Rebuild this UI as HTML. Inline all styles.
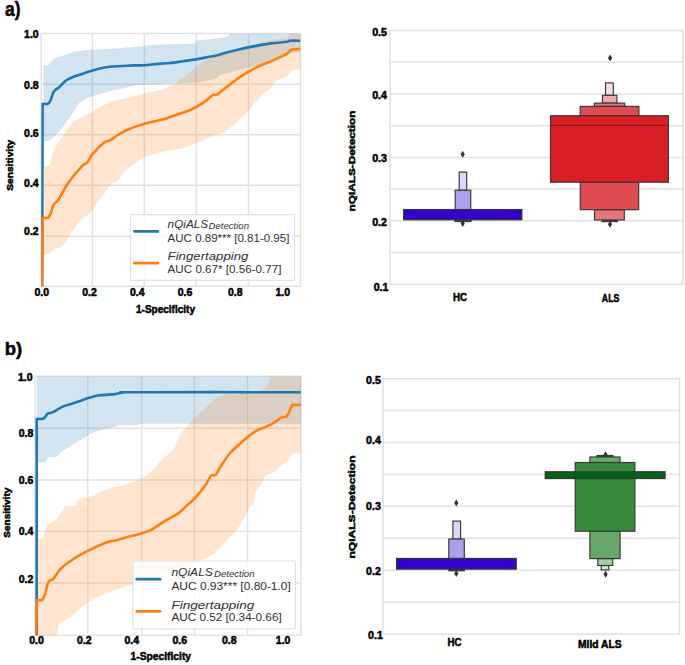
<!DOCTYPE html>
<html><head><meta charset="utf-8"><style>
html,body{margin:0;padding:0;background:#fff;width:685px;height:665px;overflow:hidden}
svg text{font-family:"Liberation Sans", sans-serif}
</style></head><body>
<svg width="685" height="665" viewBox="0 0 685 665" style="position:absolute;left:0;top:0">
<rect width="685" height="665" fill="#fff"/>
<g>
<text x="5" y="16.3" font-size="19.5" font-weight="bold" text-anchor="start" fill="#000" stroke="#000" stroke-width="0.5" textLength="15.5" lengthAdjust="spacingAndGlyphs" >a)</text>
<text x="4.8" y="354.5" font-size="18.8" font-weight="bold" text-anchor="start" fill="#000" stroke="#000" stroke-width="0.5" textLength="17.5" lengthAdjust="spacingAndGlyphs" >b)</text>
<line x1="92.40" y1="33.5" x2="92.40" y2="286.3" stroke="#e1e1e1" stroke-width="1.4"/>
<line x1="144.30" y1="33.5" x2="144.30" y2="286.3" stroke="#e1e1e1" stroke-width="1.4"/>
<line x1="196.30" y1="33.5" x2="196.30" y2="286.3" stroke="#e1e1e1" stroke-width="1.4"/>
<line x1="248.50" y1="33.5" x2="248.50" y2="286.3" stroke="#e1e1e1" stroke-width="1.4"/>
<line x1="41.2" y1="84.30" x2="300.5" y2="84.30" stroke="#e1e1e1" stroke-width="1.4"/>
<line x1="41.2" y1="134.80" x2="300.5" y2="134.80" stroke="#e1e1e1" stroke-width="1.4"/>
<line x1="41.2" y1="185.20" x2="300.5" y2="185.20" stroke="#e1e1e1" stroke-width="1.4"/>
<line x1="41.2" y1="236.30" x2="300.5" y2="236.30" stroke="#e1e1e1" stroke-width="1.4"/>
<rect x="41.2" y="33.5" width="259.3" height="252.8" fill="none" stroke="#e0e0e0" stroke-width="1.4"/>
<clipPath id="c4133"><rect x="41.2" y="33.5" width="259.3" height="252.8"/></clipPath>
<g clip-path="url(#c4133)">
<polygon points="43.3,65.3 48.4,65.3 53.7,58.4 64.2,55.3 74.7,51.6 87.4,50.0 100.0,49.5 118.0,48.6 135.0,46.6 156.9,44.8 195.0,43.5 197.2,40.5 210.0,39.3 227.6,37.1 230.0,33.5 300.5,33.5 301.0,33.5 301.0,52.1 300.3,52.1 288.5,53.7 280.0,56.3 273.0,59.8 264.3,62.9 255.0,66.3 247.5,68.0 238.8,69.8 230.0,72.4 219.5,75.0 217.8,77.7 212.5,79.4 203.8,81.2 195.0,82.6 172.7,83.8 150.8,84.7 135.0,85.2 125.0,87.9 110.0,90.9 100.0,93.7 87.4,97.9 80.0,102.1 74.7,110.0 68.0,120.0 65.0,124.5 57.5,133.5 48.5,141.0 43.3,141.0" fill="#1f77b4" fill-opacity="0.2"/>
<polygon points="43.0,165.9 49.3,165.9 53.0,153.0 56.0,146.3 65.0,133.5 72.6,121.5 78.6,118.7 92.1,112.0 105.7,103.7 110.0,101.4 125.0,98.4 144.6,93.2 161.3,90.0 171.8,85.5 176.2,82.9 180.5,78.5 187.5,75.0 191.9,70.6 195.4,66.5 205.0,60.3 217.8,55.4 230.0,51.1 238.8,48.8 245.8,45.3 255.0,44.4 271.0,40.3 287.7,37.9 290.8,33.5 300.5,33.5 301.0,33.5 301.0,69.0 300.3,69.0 295.8,69.4 291.4,71.2 287.0,76.5 281.8,78.6 276.5,80.8 273.0,85.6 268.6,90.0 263.4,93.5 258.1,99.7 252.9,105.0 247.5,112.3 242.3,116.6 237.9,121.9 233.5,125.0 228.3,128.9 223.9,132.8 214.3,135.0 208.1,137.7 200.3,141.2 195.0,143.8 182.2,148.6 162.6,151.6 144.6,156.8 132.6,165.1 125.0,171.1 117.5,180.9 111.7,183.2 101.2,198.2 98.9,200.0 94.8,206.8 90.8,212.9 82.7,218.3 75.9,225.7 69.1,235.9 65.0,243.3 59.7,247.4 54.2,248.7 48.8,254.1 43.0,254.1" fill="#ff7f0e" fill-opacity="0.2"/>
<path d="M42.10,287.00 C42.10,287.00 42.60,103.70 42.60,103.70 C42.60,103.70 46.58,104.23 47.90,103.70 C49.22,103.17 49.62,102.35 50.50,100.50 C51.38,98.65 52.32,94.43 53.20,92.60 C54.08,90.77 54.93,90.28 55.80,89.50 C56.67,88.72 57.35,88.78 58.40,87.90 C59.45,87.02 60.70,85.52 62.10,84.20 C63.50,82.88 64.70,81.32 66.80,80.00 C68.90,78.68 71.80,77.43 74.70,76.30 C77.60,75.17 81.22,74.17 84.20,73.20 C87.18,72.23 89.97,71.30 92.60,70.50 C95.23,69.70 97.10,69.02 100.00,68.40 C102.90,67.78 107.00,67.17 110.00,66.80 C113.00,66.43 113.83,66.43 118.00,66.20 C122.17,65.97 130.70,65.55 135.00,65.40 C139.30,65.25 139.42,65.60 143.80,65.30 C148.18,65.00 156.93,63.98 161.30,63.60 C165.67,63.22 166.37,63.40 170.00,63.00 C173.63,62.60 178.72,61.80 183.10,61.20 C187.48,60.60 191.92,60.13 196.30,59.40 C200.68,58.67 206.05,57.45 209.40,56.80 C212.75,56.15 212.97,56.37 216.40,55.50 C219.83,54.63 226.27,52.62 230.00,51.60 C233.73,50.58 234.63,50.32 238.80,49.40 C242.97,48.48 249.63,47.10 255.00,46.10 C260.37,45.10 265.68,44.12 271.00,43.40 C276.32,42.68 283.73,42.25 286.90,41.80 C290.07,41.35 287.77,40.88 290.00,40.70 C292.23,40.52 300.30,40.70 300.30,40.70" fill="none" stroke="#1f77b4" stroke-width="2.6" stroke-linejoin="round"/>
<path d="M41.90,287.00 C41.90,287.00 42.70,218.00 42.70,218.00 C42.70,218.00 48.10,218.00 48.10,218.00 C48.10,218.00 49.98,215.12 50.90,212.90 C51.82,210.68 52.58,206.62 53.60,204.70 C54.62,202.78 56.10,202.35 57.00,201.40 C57.90,200.45 57.17,202.03 59.00,199.00 C60.83,195.97 64.23,188.60 68.00,183.20 C71.77,177.80 78.33,170.12 81.60,166.60 C84.87,163.08 85.85,164.10 87.60,162.10 C89.35,160.10 89.33,157.85 92.10,154.60 C94.87,151.35 101.22,144.98 104.20,142.60 C107.18,140.22 107.70,141.57 110.00,140.30 C112.30,139.03 115.12,136.75 118.00,135.00 C120.88,133.25 122.87,131.67 127.30,129.80 C131.73,127.93 138.72,125.52 144.60,123.80 C150.48,122.08 158.37,120.62 162.60,119.50 C166.83,118.38 166.82,118.18 170.00,117.10 C173.18,116.02 178.38,114.17 181.70,113.00 C185.02,111.83 187.37,111.17 189.90,110.10 C192.43,109.03 194.38,108.05 196.90,106.60 C199.42,105.15 202.28,103.35 205.00,101.40 C207.72,99.45 211.25,95.98 213.20,94.90 C215.15,93.82 215.23,95.63 216.70,94.90 C218.17,94.17 219.78,92.23 222.00,90.50 C224.22,88.77 227.20,86.63 230.00,84.50 C232.80,82.37 235.88,79.72 238.80,77.70 C241.72,75.68 244.57,74.13 247.50,72.40 C250.43,70.67 253.60,68.73 256.40,67.30 C259.20,65.87 261.82,64.83 264.30,63.80 C266.78,62.77 269.27,61.92 271.30,61.10 C273.33,60.28 274.75,59.70 276.50,58.90 C278.25,58.10 280.07,57.17 281.80,56.30 C283.53,55.43 285.27,54.80 286.90,53.70 C288.53,52.60 289.37,50.48 291.60,49.70 C293.83,48.92 300.30,49.00 300.30,49.00" fill="none" stroke="#ff7f0e" stroke-width="2.6" stroke-linejoin="round"/>
</g>
<text x="41.7" y="296" font-size="10" font-weight="bold" text-anchor="middle" fill="#000" stroke="#000" stroke-width="0.5" textLength="14.6" lengthAdjust="spacingAndGlyphs" >0.0</text>
<text x="89.5" y="296" font-size="10" font-weight="bold" text-anchor="middle" fill="#000" stroke="#000" stroke-width="0.5" textLength="14.6" lengthAdjust="spacingAndGlyphs" >0.2</text>
<text x="137.2" y="296" font-size="10" font-weight="bold" text-anchor="middle" fill="#000" stroke="#000" stroke-width="0.5" textLength="14.6" lengthAdjust="spacingAndGlyphs" >0.4</text>
<text x="185" y="296" font-size="10" font-weight="bold" text-anchor="middle" fill="#000" stroke="#000" stroke-width="0.5" textLength="14.6" lengthAdjust="spacingAndGlyphs" >0.6</text>
<text x="235.2" y="296" font-size="10" font-weight="bold" text-anchor="middle" fill="#000" stroke="#000" stroke-width="0.5" textLength="14.6" lengthAdjust="spacingAndGlyphs" >0.8</text>
<text x="282.8" y="296" font-size="10" font-weight="bold" text-anchor="middle" fill="#000" stroke="#000" stroke-width="0.5" textLength="14.6" lengthAdjust="spacingAndGlyphs" >1.0</text>
<text x="38.7" y="38" font-size="10" font-weight="bold" text-anchor="end" fill="#000" stroke="#000" stroke-width="0.5" textLength="14.6" lengthAdjust="spacingAndGlyphs" >1.0</text>
<text x="38.7" y="88.6" font-size="10" font-weight="bold" text-anchor="end" fill="#000" stroke="#000" stroke-width="0.5" textLength="14.6" lengthAdjust="spacingAndGlyphs" >0.8</text>
<text x="38.7" y="137.3" font-size="10" font-weight="bold" text-anchor="end" fill="#000" stroke="#000" stroke-width="0.5" textLength="14.6" lengthAdjust="spacingAndGlyphs" >0.6</text>
<text x="38.7" y="186.6" font-size="10" font-weight="bold" text-anchor="end" fill="#000" stroke="#000" stroke-width="0.5" textLength="14.6" lengthAdjust="spacingAndGlyphs" >0.4</text>
<text x="38.7" y="235" font-size="10" font-weight="bold" text-anchor="end" fill="#000" stroke="#000" stroke-width="0.5" textLength="14.6" lengthAdjust="spacingAndGlyphs" >0.2</text>
<rect x="130.5" y="214.6" width="164" height="65.7" rx="1" fill="#fff" fill-opacity="0.8" stroke="#e0e0e0" stroke-width="1.2"/>
<line x1="134.5" y1="231.4" x2="157.8" y2="231.4" stroke="#1f77b4" stroke-width="2.8" stroke-linecap="round"/>
<line x1="134.5" y1="263.2" x2="157.8" y2="263.2" stroke="#ff7f0e" stroke-width="2.8" stroke-linecap="round"/>
<text x="167.6" y="227.8" font-size="10.5" fill="#303030" textLength="40.5" lengthAdjust="spacingAndGlyphs" style="font-style:italic">nQiALS</text>
<text x="208.5" y="229.4" font-size="10.5" fill="#303030" textLength="40.5" lengthAdjust="spacingAndGlyphs" style="font-style:italic"><tspan font-size="8.5">Detection</tspan></text>
<text x="167.6" y="241.6" font-size="10.5" fill="#303030" textLength="121.8" lengthAdjust="spacingAndGlyphs" style="">AUC 0.89*** [0.81-0.95]</text>
<text x="167.6" y="259.6" font-size="10.5" fill="#303030" textLength="80.8" lengthAdjust="spacingAndGlyphs" style="font-style:italic">Fingertapping</text>
<text x="167.6" y="272.9" font-size="10.5" fill="#303030" textLength="113.8" lengthAdjust="spacingAndGlyphs" style="">AUC 0.67* [0.56-0.77]</text>
<text x="165.5" y="312.8" font-size="10.5" font-weight="bold" text-anchor="middle" fill="#000" stroke="#000" stroke-width="0.5" textLength="59" lengthAdjust="spacingAndGlyphs" >1-Specificity</text>
<text x="13.2" y="165.3" font-size="9.6" font-weight="bold" text-anchor="middle" fill="#000" stroke="#000" stroke-width="0.5" textLength="51" lengthAdjust="spacingAndGlyphs" transform="rotate(-90 13.2 165.3)" >Sensitivity</text>
<line x1="87.80" y1="376.2" x2="87.80" y2="635.2" stroke="#e1e1e1" stroke-width="1.4"/>
<line x1="141.70" y1="376.2" x2="141.70" y2="635.2" stroke="#e1e1e1" stroke-width="1.4"/>
<line x1="194.50" y1="376.2" x2="194.50" y2="635.2" stroke="#e1e1e1" stroke-width="1.4"/>
<line x1="247.50" y1="376.2" x2="247.50" y2="635.2" stroke="#e1e1e1" stroke-width="1.4"/>
<line x1="35.0" y1="428.30" x2="301.0" y2="428.30" stroke="#e1e1e1" stroke-width="1.4"/>
<line x1="35.0" y1="480.00" x2="301.0" y2="480.00" stroke="#e1e1e1" stroke-width="1.4"/>
<line x1="35.0" y1="531.40" x2="301.0" y2="531.40" stroke="#e1e1e1" stroke-width="1.4"/>
<line x1="35.0" y1="583.00" x2="301.0" y2="583.00" stroke="#e1e1e1" stroke-width="1.4"/>
<rect x="35.0" y="376.2" width="266.0" height="259.00000000000006" fill="none" stroke="#e0e0e0" stroke-width="1.4"/>
<clipPath id="c35376"><rect x="35.0" y="376.2" width="266.0" height="259.00000000000006"/></clipPath>
<g clip-path="url(#c35376)">
<polygon points="36.8,376.2 301.0,376.2 301.0,423.7 139.1,423.7 137.6,425.3 118.0,425.3 116.3,426.4 102.7,429.5 90.7,433.2 84.7,437.7 74.1,443.8 62.1,451.3 56.1,457.3 47.8,457.3 45.5,462.6 36.8,462.6" fill="#1f77b4" fill-opacity="0.2"/>
<polygon points="36.0,538.3 42.5,538.3 47.1,524.7 51.6,521.7 56.1,520.2 62.1,511.2 65.1,505.9 74.9,505.9 77.9,499.4 84.7,497.6 93.7,496.1 98.2,492.4 110.3,487.8 115.0,487.1 127.0,484.1 137.6,480.3 145.1,476.5 154.1,469.0 158.6,463.2 166.1,455.7 173.6,449.7 179.7,434.7 190.2,422.6 199.2,413.6 205.2,408.3 209.5,403.8 217.0,397.1 229.1,394.1 256.1,391.0 265.2,388.8 269.7,382.0 271.2,376.2 301.0,376.2 301.0,453.5 292.2,453.5 287.7,461.5 280.2,466.0 274.2,472.0 269.7,473.5 265.2,476.5 260.6,485.6 256.1,490.1 253.1,505.1 250.1,505.9 247.1,512.6 239.6,526.2 232.1,535.2 223.0,544.2 214.0,554.0 205.5,558.8 188.0,567.5 158.8,575.5 129.6,585.0 113.2,590.6 99.7,596.0 87.5,602.8 76.7,610.9 71.2,617.0 59.1,623.8 56.4,635.2 36.0,635.2" fill="#ff7f0e" fill-opacity="0.2"/>
<path d="M36.70,636.00 C36.70,636.00 36.70,418.90 36.70,418.90 C36.70,418.90 41.15,419.15 42.50,418.90 C43.85,418.65 43.92,418.28 44.80,417.40 C45.68,416.52 46.42,414.48 47.80,413.60 C49.18,412.72 50.72,413.22 53.10,412.10 C55.48,410.98 59.10,408.27 62.10,406.90 C65.10,405.53 68.08,404.90 71.10,403.90 C74.12,402.90 77.18,401.92 80.20,400.90 C83.22,399.88 85.95,398.73 89.20,397.80 C92.45,396.87 95.40,395.92 99.70,395.30 C104.00,394.68 111.20,394.55 115.00,394.10 C118.80,393.65 118.73,392.92 122.50,392.60 C126.27,392.28 107.88,392.27 137.60,392.20 C167.32,392.13 300.80,392.20 300.80,392.20" fill="none" stroke="#1f77b4" stroke-width="2.6" stroke-linejoin="round"/>
<path d="M36.00,636.00 C36.00,636.00 37.00,600.10 37.00,600.10 C37.00,600.10 42.20,600.10 42.20,600.10 C42.20,600.10 44.00,597.42 44.90,594.70 C45.80,591.98 46.70,586.25 47.60,583.80 C48.50,581.35 49.40,580.78 50.30,580.00 C51.20,579.22 51.20,581.05 53.00,579.10 C54.80,577.15 58.28,571.23 61.10,568.30 C63.92,565.37 67.08,563.53 69.90,561.50 C72.72,559.47 74.85,557.95 78.00,556.10 C81.15,554.25 83.92,552.75 88.80,550.40 C93.68,548.05 102.93,543.65 107.30,542.00 C111.67,540.35 112.22,541.18 115.00,540.50 C117.78,539.82 119.73,539.03 124.00,537.90 C128.27,536.77 136.08,535.03 140.60,533.70 C145.12,532.37 147.60,531.65 151.10,529.90 C154.60,528.15 158.60,525.08 161.60,523.20 C164.60,521.32 166.33,520.23 169.10,518.60 C171.87,516.97 175.43,515.40 178.20,513.40 C180.97,511.40 182.95,509.12 185.70,506.60 C188.45,504.08 191.45,501.80 194.70,498.30 C197.95,494.80 202.48,489.35 205.20,485.60 C207.92,481.85 209.28,477.57 211.00,475.80 C212.72,474.03 214.00,476.38 215.50,475.00 C217.00,473.62 217.73,470.97 220.00,467.50 C222.27,464.03 226.33,457.67 229.10,454.20 C231.87,450.73 233.35,449.70 236.60,446.70 C239.85,443.70 245.35,438.83 248.60,436.20 C251.85,433.57 253.33,432.42 256.10,430.90 C258.87,429.38 262.43,428.35 265.20,427.10 C267.97,425.85 269.95,425.02 272.70,423.40 C275.45,421.78 279.32,418.65 281.70,417.40 C284.08,416.15 285.25,417.98 287.00,415.90 C288.75,413.82 292.20,404.90 292.20,404.90 C292.20,404.90 300.80,404.90 300.80,404.90" fill="none" stroke="#ff7f0e" stroke-width="2.6" stroke-linejoin="round"/>
</g>
<text x="36.5" y="644.1" font-size="10" font-weight="bold" text-anchor="middle" fill="#000" stroke="#000" stroke-width="0.5" textLength="14.6" lengthAdjust="spacingAndGlyphs" >0.0</text>
<text x="84.4" y="644.1" font-size="10" font-weight="bold" text-anchor="middle" fill="#000" stroke="#000" stroke-width="0.5" textLength="14.6" lengthAdjust="spacingAndGlyphs" >0.2</text>
<text x="131.7" y="644.1" font-size="10" font-weight="bold" text-anchor="middle" fill="#000" stroke="#000" stroke-width="0.5" textLength="14.6" lengthAdjust="spacingAndGlyphs" >0.4</text>
<text x="179.7" y="644.1" font-size="10" font-weight="bold" text-anchor="middle" fill="#000" stroke="#000" stroke-width="0.5" textLength="14.6" lengthAdjust="spacingAndGlyphs" >0.6</text>
<text x="229.2" y="644.1" font-size="10" font-weight="bold" text-anchor="middle" fill="#000" stroke="#000" stroke-width="0.5" textLength="14.6" lengthAdjust="spacingAndGlyphs" >0.8</text>
<text x="283.1" y="644.1" font-size="10" font-weight="bold" text-anchor="middle" fill="#000" stroke="#000" stroke-width="0.5" textLength="14.6" lengthAdjust="spacingAndGlyphs" >1.0</text>
<text x="32.5" y="381" font-size="10" font-weight="bold" text-anchor="end" fill="#000" stroke="#000" stroke-width="0.5" textLength="14.6" lengthAdjust="spacingAndGlyphs" >1.0</text>
<text x="33.3" y="436.5" font-size="10" font-weight="bold" text-anchor="end" fill="#000" stroke="#000" stroke-width="0.5" textLength="14.6" lengthAdjust="spacingAndGlyphs" >0.8</text>
<text x="33.3" y="483.6" font-size="10" font-weight="bold" text-anchor="end" fill="#000" stroke="#000" stroke-width="0.5" textLength="14.6" lengthAdjust="spacingAndGlyphs" >0.6</text>
<text x="33.3" y="534.5" font-size="10" font-weight="bold" text-anchor="end" fill="#000" stroke="#000" stroke-width="0.5" textLength="14.6" lengthAdjust="spacingAndGlyphs" >0.4</text>
<text x="33.3" y="583.2" font-size="10" font-weight="bold" text-anchor="end" fill="#000" stroke="#000" stroke-width="0.5" textLength="14.6" lengthAdjust="spacingAndGlyphs" >0.2</text>
<rect x="132.8" y="561" width="162.7" height="67.8" rx="1" fill="#fff" fill-opacity="0.8" stroke="#e0e0e0" stroke-width="1.2"/>
<line x1="136.8" y1="579.2" x2="160.10000000000002" y2="579.2" stroke="#1f77b4" stroke-width="2.8" stroke-linecap="round"/>
<line x1="136.8" y1="611.3" x2="160.10000000000002" y2="611.3" stroke="#ff7f0e" stroke-width="2.8" stroke-linecap="round"/>
<text x="171.4" y="575.7" font-size="10.9" fill="#303030" textLength="41.5" lengthAdjust="spacingAndGlyphs" style="font-style:italic">nQiALS</text>
<text x="214" y="576.9" font-size="10.9" fill="#303030" textLength="40.5" lengthAdjust="spacingAndGlyphs" style="font-style:italic"><tspan font-size="8.7">Detection</tspan></text>
<text x="171.4" y="589.9" font-size="10.9" fill="#303030" textLength="119.4" lengthAdjust="spacingAndGlyphs" style="">AUC 0.93*** [0.80-1.0]</text>
<text x="171.4" y="608.5" font-size="10.9" fill="#303030" textLength="83" lengthAdjust="spacingAndGlyphs" style="font-style:italic">Fingertapping</text>
<text x="171.4" y="621.2" font-size="10.9" fill="#303030" textLength="110.3" lengthAdjust="spacingAndGlyphs" style="">AUC 0.52 [0.34-0.66]</text>
<text x="160.8" y="660.3" font-size="10.5" font-weight="bold" text-anchor="middle" fill="#000" stroke="#000" stroke-width="0.5" textLength="60.5" lengthAdjust="spacingAndGlyphs" >1-Specificity</text>
<text x="10.0" y="512.7" font-size="9.6" font-weight="bold" text-anchor="middle" fill="#000" stroke="#000" stroke-width="0.5" textLength="50" lengthAdjust="spacingAndGlyphs" transform="rotate(-90 10.0 512.7)" >Sensitivity</text>
<line x1="390" y1="252.58" x2="683" y2="252.58" stroke="#e1e1e1" stroke-width="1.5"/>
<line x1="390" y1="220.85" x2="683" y2="220.85" stroke="#e1e1e1" stroke-width="1.5"/>
<line x1="390" y1="189.12" x2="683" y2="189.12" stroke="#e1e1e1" stroke-width="1.5"/>
<line x1="390" y1="157.40" x2="683" y2="157.40" stroke="#e1e1e1" stroke-width="1.5"/>
<line x1="390" y1="125.68" x2="683" y2="125.68" stroke="#e1e1e1" stroke-width="1.5"/>
<line x1="390" y1="93.95" x2="683" y2="93.95" stroke="#e1e1e1" stroke-width="1.5"/>
<line x1="390" y1="62.22" x2="683" y2="62.22" stroke="#e1e1e1" stroke-width="1.5"/>
<rect x="390" y="30.5" width="293" height="253.8" fill="none" stroke="#e0e0e0" stroke-width="1.5"/>
<text x="387" y="35.8" font-size="10.4" font-weight="bold" text-anchor="end" fill="#000" stroke="#000" stroke-width="0.5" textLength="14.8" lengthAdjust="spacingAndGlyphs" >0.5</text>
<text x="387" y="98.6" font-size="10.4" font-weight="bold" text-anchor="end" fill="#000" stroke="#000" stroke-width="0.5" textLength="14.8" lengthAdjust="spacingAndGlyphs" >0.4</text>
<text x="387" y="161.6" font-size="10.4" font-weight="bold" text-anchor="end" fill="#000" stroke="#000" stroke-width="0.5" textLength="14.8" lengthAdjust="spacingAndGlyphs" >0.3</text>
<text x="387" y="225.6" font-size="10.4" font-weight="bold" text-anchor="end" fill="#000" stroke="#000" stroke-width="0.5" textLength="14.8" lengthAdjust="spacingAndGlyphs" >0.2</text>
<text x="388.5" y="290.8" font-size="10.4" font-weight="bold" text-anchor="end" fill="#000" stroke="#000" stroke-width="0.5" textLength="14.8" lengthAdjust="spacingAndGlyphs" >0.1</text>
<text x="460" y="300.6" font-size="10" font-weight="bold" text-anchor="middle" fill="#000" stroke="#000" stroke-width="0.5" textLength="14" lengthAdjust="spacingAndGlyphs" >HC</text>
<text x="610.6" y="302" font-size="10" font-weight="bold" text-anchor="middle" fill="#000" stroke="#000" stroke-width="0.5" textLength="17.5" lengthAdjust="spacingAndGlyphs" >ALS</text>
<text x="355.4" y="161" font-size="9.9" font-weight="bold" text-anchor="middle" fill="#000" stroke="#000" stroke-width="0.5" textLength="101" lengthAdjust="spacingAndGlyphs" transform="rotate(-90 355.4 161)" >nQIALS-Detection</text>
<polygon points="462.7,150.7 464.8,154.2 462.7,157.7 460.59999999999997,154.2" fill="#333"/>
<rect x="455.0" y="219.5" width="16.0" height="2.0" fill="#444" stroke="#363636" stroke-width="1.15"/>
<polygon points="462.7,220.0 464.8,223.5 462.7,227.0 460.59999999999997,223.5" fill="#333"/>
<rect x="459.2" y="172.1" width="7.5" height="18.1" fill="#dcd8f8" stroke="#363636" stroke-width="1.15"/>
<rect x="455.2" y="190.2" width="15.6" height="19.4" fill="#a9a1ec" stroke="#363636" stroke-width="1.15"/>
<rect x="403.7" y="209.6" width="118.1" height="10.1" fill="#3300cc" stroke="#363636" stroke-width="1.3"/>
<polygon points="610.1,54.5 612.2,58 610.1,61.5 608.0,58" fill="#333"/>
<polygon points="610,220.8 612.1,224.3 610,227.8 607.9,224.3" fill="#333"/>
<rect x="602.0" y="220.0" width="15.3" height="1.6" fill="#555" stroke="#363636" stroke-width="1.15"/>
<rect x="605.5" y="82.9" width="7.8" height="12.4" fill="#f9dadd" stroke="#363636" stroke-width="1.15"/>
<rect x="602.5" y="95.3" width="14.4" height="7.8" fill="#f2a9ad" stroke="#363636" stroke-width="1.15"/>
<rect x="594.4" y="103.1" width="30.3" height="3.3" fill="#e8727a" stroke="#363636" stroke-width="1.15"/>
<rect x="580.2" y="106.4" width="58.7" height="9.3" fill="#e04a51" stroke="#363636" stroke-width="1.15"/>
<rect x="594.5" y="209.7" width="29.8" height="10.3" fill="#e8757a" stroke="#363636" stroke-width="1.15"/>
<rect x="580.3" y="182.2" width="58.4" height="27.5" fill="#e04a51" stroke="#363636" stroke-width="1.15"/>
<rect x="550.5" y="115.7" width="117.9" height="66.5" fill="#d91f26" stroke="#363636" stroke-width="1.15"/>
<line x1="551" y1="125.3" x2="668" y2="125.3" stroke="#8a1a1e" stroke-width="1.3"/>
<line x1="383" y1="602.16" x2="679.6" y2="602.16" stroke="#e1e1e1" stroke-width="1.5"/>
<line x1="383" y1="570.23" x2="679.6" y2="570.23" stroke="#e1e1e1" stroke-width="1.5"/>
<line x1="383" y1="538.29" x2="679.6" y2="538.29" stroke="#e1e1e1" stroke-width="1.5"/>
<line x1="383" y1="506.35" x2="679.6" y2="506.35" stroke="#e1e1e1" stroke-width="1.5"/>
<line x1="383" y1="474.41" x2="679.6" y2="474.41" stroke="#e1e1e1" stroke-width="1.5"/>
<line x1="383" y1="442.48" x2="679.6" y2="442.48" stroke="#e1e1e1" stroke-width="1.5"/>
<line x1="383" y1="410.54" x2="679.6" y2="410.54" stroke="#e1e1e1" stroke-width="1.5"/>
<rect x="383" y="378.6" width="296.6" height="255.5" fill="none" stroke="#e0e0e0" stroke-width="1.5"/>
<text x="380.9" y="384.2" font-size="10.4" font-weight="bold" text-anchor="end" fill="#000" stroke="#000" stroke-width="0.5" textLength="14.8" lengthAdjust="spacingAndGlyphs" >0.5</text>
<text x="380.9" y="444.4" font-size="10.4" font-weight="bold" text-anchor="end" fill="#000" stroke="#000" stroke-width="0.5" textLength="14.8" lengthAdjust="spacingAndGlyphs" >0.4</text>
<text x="380.9" y="510.1" font-size="10.4" font-weight="bold" text-anchor="end" fill="#000" stroke="#000" stroke-width="0.5" textLength="14.8" lengthAdjust="spacingAndGlyphs" >0.3</text>
<text x="380.9" y="574.9" font-size="10.4" font-weight="bold" text-anchor="end" fill="#000" stroke="#000" stroke-width="0.5" textLength="14.8" lengthAdjust="spacingAndGlyphs" >0.2</text>
<text x="382.9" y="638.8" font-size="10.4" font-weight="bold" text-anchor="end" fill="#000" stroke="#000" stroke-width="0.5" textLength="14.8" lengthAdjust="spacingAndGlyphs" >0.1</text>
<text x="454.4" y="645.9" font-size="10" font-weight="bold" text-anchor="middle" fill="#000" stroke="#000" stroke-width="0.5" textLength="14" lengthAdjust="spacingAndGlyphs" >HC</text>
<text x="599.8" y="648.3" font-size="10" font-weight="bold" text-anchor="middle" fill="#000" stroke="#000" stroke-width="0.5" textLength="43.5" lengthAdjust="spacingAndGlyphs" >Mild ALS</text>
<text x="355.3" y="507" font-size="9.9" font-weight="bold" text-anchor="middle" fill="#000" stroke="#000" stroke-width="0.5" textLength="103" lengthAdjust="spacingAndGlyphs" transform="rotate(-90 355.3 507)" >nQIALS-Detection</text>
<polygon points="456.3,499.4 458.40000000000003,502.9 456.3,506.4 454.2,502.9" fill="#333"/>
<rect x="448.8" y="569.0" width="15.5" height="1.8" fill="#444" stroke="#363636" stroke-width="1.15"/>
<polygon points="456.3,569.9 458.40000000000003,573.4 456.3,576.9 454.2,573.4" fill="#333"/>
<rect x="452.9" y="521.1" width="7.7" height="17.9" fill="#dcd8f8" stroke="#363636" stroke-width="1.15"/>
<rect x="448.8" y="539.0" width="15.5" height="19.5" fill="#a9a1ec" stroke="#363636" stroke-width="1.15"/>
<rect x="396.6" y="558.5" width="119.6" height="10.6" fill="#3300cc" stroke="#363636" stroke-width="1.3"/>
<polygon points="605.5,451.3 607.6,454.8 605.5,458.3 603.4,454.8" fill="#333"/>
<rect x="597.0" y="455.5" width="16.0" height="1.5" fill="#444" stroke="#363636" stroke-width="1.15"/>
<polygon points="605.6,570.7 607.7,574.2 605.6,577.7 603.5,574.2" fill="#333"/>
<rect x="601.2" y="565.5" width="7.6" height="4.4" fill="#d5ecd0" stroke="#363636" stroke-width="1.15"/>
<rect x="597.8" y="558.6" width="14.9" height="6.9" fill="#a2cfa0" stroke="#363636" stroke-width="1.15"/>
<rect x="589.9" y="531.2" width="30.2" height="27.4" fill="#68a86a" stroke="#363636" stroke-width="1.15"/>
<rect x="589.9" y="457.0" width="30.2" height="5.5" fill="#6aac6a" stroke="#363636" stroke-width="1.15"/>
<rect x="575.2" y="462.5" width="59.7" height="68.7" fill="#3a8a3c" stroke="#363636" stroke-width="1.15"/>
<rect x="545.3" y="471.8" width="119.7" height="6.7" fill="#006414" stroke="#363636" stroke-width="1.3"/>
</g>
</svg>

</body></html>
